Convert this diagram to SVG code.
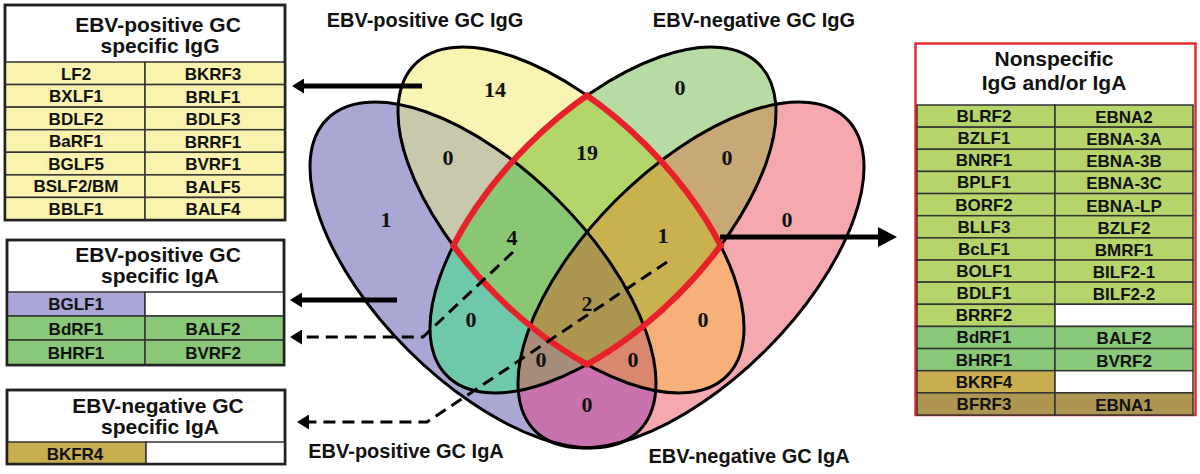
<svg xmlns="http://www.w3.org/2000/svg" width="1200" height="474" viewBox="0 0 1200 474">
<style>
.num{font-family:"Liberation Serif","Times New Roman",serif;font-weight:bold;font-size:22px;text-anchor:middle;fill:#111}
.lbl{font-family:"Liberation Sans",Arial,sans-serif;font-weight:bold;font-size:20px;text-anchor:middle;fill:#111}
.ttl{font-family:"Liberation Sans",Arial,sans-serif;font-weight:bold;font-size:21px;text-anchor:middle;fill:#111}
.ttl2{font-family:"Liberation Sans",Arial,sans-serif;font-weight:bold;font-size:21px;text-anchor:middle;fill:#111}
.cell{font-family:"Liberation Sans",Arial,sans-serif;font-weight:bold;font-size:17px;text-anchor:middle;fill:#111}
.c{stroke:#333;stroke-width:1.5}
.box{fill:#fff;stroke:#222;stroke-width:2.5}
.outline{fill:none;stroke:#000;stroke-width:3}
.red{fill:none;stroke:#e8202a;stroke-width:6}
.arrow{fill:none;stroke:#000;stroke-width:5}
.dash{fill:none;stroke:#000;stroke-width:3;stroke-dasharray:12 7}
.yel{fill:#f9f3ad}.pur{fill:#aaa7d6}.grn{fill:#88c878}.gold{fill:#c9ae4f}.lime{fill:#b5d56b}.olive{fill:#ae9650}.wht{fill:#fff}
</style>
<defs>
<clipPath id="cP"><ellipse cx="483" cy="275" rx="220.5" ry="106" transform="rotate(45 483 275)"/></clipPath>
<clipPath id="cY"><ellipse cx="571" cy="220" rx="220.5" ry="106" transform="rotate(45 571 220)"/></clipPath>
<clipPath id="cG"><ellipse cx="603" cy="220" rx="220.5" ry="106" transform="rotate(-45 603 220)"/></clipPath>
<clipPath id="cK"><ellipse cx="691" cy="275" rx="220.5" ry="106" transform="rotate(-45 691 275)"/></clipPath>
<clipPath id="cYb"><ellipse cx="571" cy="220" rx="223.5" ry="109" transform="rotate(45 571 220)"/></clipPath>
<clipPath id="cGb"><ellipse cx="603" cy="220" rx="223.5" ry="109" transform="rotate(-45 603 220)"/></clipPath>
<ellipse id="eP" cx="483" cy="275" rx="220.5" ry="106" transform="rotate(45 483 275)"/>
<ellipse id="eY" cx="571" cy="220" rx="220.5" ry="106" transform="rotate(45 571 220)"/>
<ellipse id="eG" cx="603" cy="220" rx="220.5" ry="106" transform="rotate(-45 603 220)"/>
<ellipse id="eK" cx="691" cy="275" rx="220.5" ry="106" transform="rotate(-45 691 275)"/>
<marker id="ahS" markerUnits="userSpaceOnUse" markerWidth="12" markerHeight="15" viewBox="0 -7.5 12 15" refX="2" refY="0" orient="auto"><path d="M0,-7.5 L12,0 L0,7.5 Z" fill="#000"/></marker>
<marker id="ahB" markerUnits="userSpaceOnUse" markerWidth="19" markerHeight="20" viewBox="0 -10 19 20" refX="3" refY="0" orient="auto"><path d="M0,-10 L19,0 L0,10 Z" fill="#000"/></marker>
</defs>
<rect width="1200" height="474" fill="#fff"/>

<g id="venn">
<g id="set-pos-igg-fill"><use href="#eY" fill="#f8f4b2"/></g>
<g id="set-neg-igg-fill"><use href="#eG" fill="#b6dba3"/></g>
<g id="set-pos-iga-fill"><use href="#eP" fill="#aaa7d5"/></g>
<g id="set-neg-iga-fill"><use href="#eK" fill="#f5a8ad"/></g>
<g clip-path="url(#cP)"><use href="#eY" fill="#c8c8ad"/></g>
<g clip-path="url(#cY)"><use href="#eG" fill="#b3d66a"/></g>
<g clip-path="url(#cG)"><use href="#eK" fill="#c9a877"/></g>
<g clip-path="url(#cP)"><use href="#eG" fill="#6fc8a9"/></g>
<g clip-path="url(#cY)"><use href="#eK" fill="#f8b07a"/></g>
<g clip-path="url(#cP)"><use href="#eK" fill="#c873ae"/></g>
<g clip-path="url(#cY)"><g clip-path="url(#cP)"><use href="#eG" fill="#89c775"/></g></g>
<g clip-path="url(#cY)"><g clip-path="url(#cK)"><use href="#eG" fill="#c9b14f"/></g></g>
<g clip-path="url(#cP)"><g clip-path="url(#cG)"><use href="#eK" fill="#a88d7a"/></g></g>
<g clip-path="url(#cP)"><g clip-path="url(#cY)"><use href="#eK" fill="#d9876f"/></g></g>
<g clip-path="url(#cP)"><g clip-path="url(#cK)"><g clip-path="url(#cG)"><use href="#eY" fill="#ad9650"/></g></g></g>
<g id="outlines">
<use href="#eP" class="outline"/>
<use href="#eY" class="outline"/>
<use href="#eG" class="outline"/>
<use href="#eK" class="outline"/>
</g>
<g id="highlight">
<g clip-path="url(#cGb)"><use href="#eY" class="red"/></g>
<g clip-path="url(#cYb)"><use href="#eG" class="red"/></g>
</g>
<g id="counts">
<text class="num" x="495" y="97">14</text>
<text class="num" x="680" y="95">0</text>
<text class="num" x="448" y="165">0</text>
<text class="num" x="587" y="160">19</text>
<text class="num" x="727" y="165">0</text>
<text class="num" x="386" y="227">1</text>
<text class="num" x="787" y="227">0</text>
<text class="num" x="512" y="245">4</text>
<text class="num" x="663" y="243">1</text>
<text class="num" x="587" y="311">2</text>
<text class="num" x="471" y="327">0</text>
<text class="num" x="703" y="327">0</text>
<text class="num" x="541" y="367">0</text>
<text class="num" x="633" y="367">0</text>
<text class="num" x="587" y="412">0</text>
</g>
<g id="set-labels">
<text class="lbl" x="425" y="27">EBV-positive GC IgG</text>
<text class="lbl" x="754" y="27">EBV-negative GC IgG</text>
<text class="lbl" x="406" y="458">EBV-positive GC IgA</text>
<text class="lbl" x="749" y="463">EBV-negative GC IgA</text>
</g>
</g>

<g id="table-pos-igg">
<rect class="box" x="5" y="5" width="280" height="215"/>
<text class="ttl" x="158" y="32">EBV-positive GC</text>
<text class="ttl" x="160" y="53">specific IgG</text>
<rect class="c yel" x="5" y="62" width="140" height="22.57"/><rect class="c yel" x="145" y="62" width="140" height="22.57"/>
<rect class="c yel" x="5" y="84.57" width="140" height="22.57"/><rect class="c yel" x="145" y="84.57" width="140" height="22.57"/>
<rect class="c yel" x="5" y="107.14" width="140" height="22.57"/><rect class="c yel" x="145" y="107.14" width="140" height="22.57"/>
<rect class="c yel" x="5" y="129.71" width="140" height="22.57"/><rect class="c yel" x="145" y="129.71" width="140" height="22.57"/>
<rect class="c yel" x="5" y="152.29" width="140" height="22.57"/><rect class="c yel" x="145" y="152.29" width="140" height="22.57"/>
<rect class="c yel" x="5" y="174.86" width="140" height="22.57"/><rect class="c yel" x="145" y="174.86" width="140" height="22.57"/>
<rect class="c yel" x="5" y="197.43" width="140" height="22.57"/><rect class="c yel" x="145" y="197.43" width="140" height="22.57"/>
<rect x="5" y="5" width="280" height="215" fill="none" stroke="#222" stroke-width="2.5"/>
<text class="cell" x="76" y="79.5">LF2</text><text class="cell" x="213" y="80">BKRF3</text>
<text class="cell" x="76" y="102">BXLF1</text><text class="cell" x="213" y="102.5">BRLF1</text>
<text class="cell" x="76" y="124.5">BDLF2</text><text class="cell" x="213" y="125">BDLF3</text>
<text class="cell" x="76" y="147">BaRF1</text><text class="cell" x="213" y="147.5">BRRF1</text>
<text class="cell" x="76" y="169.5">BGLF5</text><text class="cell" x="213" y="170">BVRF1</text>
<text class="cell" x="76" y="192">BSLF2/BM</text><text class="cell" x="213" y="192.5">BALF5</text>
<text class="cell" x="76" y="214.5">BBLF1</text><text class="cell" x="213" y="215">BALF4</text>
</g>

<g id="table-pos-iga">
<rect class="box" x="7" y="240" width="277" height="125"/>
<text class="ttl" x="158" y="262">EBV-positive GC</text>
<text class="ttl" x="160" y="283">specific IgA</text>
<rect class="c pur" x="7" y="292" width="138" height="24"/><rect class="c wht" x="145" y="292" width="139" height="24"/>
<rect class="c grn" x="7" y="316" width="138" height="24"/><rect class="c grn" x="145" y="316" width="139" height="24"/>
<rect class="c grn" x="7" y="340" width="138" height="25"/><rect class="c grn" x="145" y="340" width="139" height="25"/>
<rect x="7" y="240" width="277" height="125" fill="none" stroke="#222" stroke-width="2.5"/>
<text class="cell" x="76" y="310">BGLF1</text>
<text class="cell" x="76" y="334.5">BdRF1</text><text class="cell" x="213" y="334.5">BALF2</text>
<text class="cell" x="76" y="358.5">BHRF1</text><text class="cell" x="213" y="358.5">BVRF2</text>
</g>

<g id="table-neg-iga">
<rect class="box" x="7" y="390" width="278" height="74"/>
<text class="ttl" x="158" y="413">EBV-negative GC</text>
<text class="ttl" x="160" y="434">specific IgA</text>
<rect class="c gold" x="7" y="442" width="139" height="22"/><rect class="c wht" x="146" y="442" width="139" height="22"/>
<rect x="7" y="390" width="278" height="74" fill="none" stroke="#222" stroke-width="2.5"/>
<text class="cell" x="75" y="459.5">BKFR4</text>
</g>

<g id="table-nonspecific">
<rect x="915.5" y="43.5" width="280" height="371.5" fill="#fff" stroke="#e52d2d" stroke-width="2.5"/>
<text class="ttl2" x="1054" y="66">Nonspecific</text>
<text class="ttl2" x="1054" y="90">IgG and/or IgA</text>
<rect class="c lime" x="917" y="105" width="138" height="22.14"/><rect class="c lime" x="1055" y="105" width="138" height="22.14"/>
<rect class="c lime" x="917" y="127.14" width="138" height="22.14"/><rect class="c lime" x="1055" y="127.14" width="138" height="22.14"/>
<rect class="c lime" x="917" y="149.29" width="138" height="22.14"/><rect class="c lime" x="1055" y="149.29" width="138" height="22.14"/>
<rect class="c lime" x="917" y="171.43" width="138" height="22.14"/><rect class="c lime" x="1055" y="171.43" width="138" height="22.14"/>
<rect class="c lime" x="917" y="193.57" width="138" height="22.14"/><rect class="c lime" x="1055" y="193.57" width="138" height="22.14"/>
<rect class="c lime" x="917" y="215.71" width="138" height="22.14"/><rect class="c lime" x="1055" y="215.71" width="138" height="22.14"/>
<rect class="c lime" x="917" y="237.86" width="138" height="22.14"/><rect class="c lime" x="1055" y="237.86" width="138" height="22.14"/>
<rect class="c lime" x="917" y="260" width="138" height="22.14"/><rect class="c lime" x="1055" y="260" width="138" height="22.14"/>
<rect class="c lime" x="917" y="282.14" width="138" height="22.14"/><rect class="c lime" x="1055" y="282.14" width="138" height="22.14"/>
<rect class="c lime" x="917" y="304.29" width="138" height="22.14"/><rect class="c wht" x="1055" y="304.29" width="138" height="22.14"/>
<rect class="c grn" x="917" y="326.43" width="138" height="22.14"/><rect class="c grn" x="1055" y="326.43" width="138" height="22.14"/>
<rect class="c grn" x="917" y="348.57" width="138" height="22.14"/><rect class="c grn" x="1055" y="348.57" width="138" height="22.14"/>
<rect class="c gold" x="917" y="370.71" width="138" height="22.14"/><rect class="c wht" x="1055" y="370.71" width="138" height="22.14"/>
<rect class="c olive" x="917" y="392.86" width="138" height="22.14"/><rect class="c olive" x="1055" y="392.86" width="138" height="22.14"/>
<text class="cell" x="984" y="122">BLRF2</text><text class="cell" x="1124" y="123">EBNA2</text>
<text class="cell" x="984" y="144">BZLF1</text><text class="cell" x="1124" y="145">EBNA-3A</text>
<text class="cell" x="984" y="166.3">BNRF1</text><text class="cell" x="1124" y="167.3">EBNA-3B</text>
<text class="cell" x="984" y="188.4">BPLF1</text><text class="cell" x="1124" y="189.4">EBNA-3C</text>
<text class="cell" x="984" y="210.6">BORF2</text><text class="cell" x="1124" y="211.6">EBNA-LP</text>
<text class="cell" x="984" y="232.7">BLLF3</text><text class="cell" x="1124" y="233.7">BZLF2</text>
<text class="cell" x="984" y="254.9">BcLF1</text><text class="cell" x="1124" y="255.9">BMRF1</text>
<text class="cell" x="984" y="277">BOLF1</text><text class="cell" x="1124" y="278">BILF2-1</text>
<text class="cell" x="984" y="299.1">BDLF1</text><text class="cell" x="1124" y="300.1">BILF2-2</text>
<text class="cell" x="984" y="321.3">BRRF2</text>
<text class="cell" x="984" y="343.4">BdRF1</text><text class="cell" x="1124" y="344.4">BALF2</text>
<text class="cell" x="984" y="365.6">BHRF1</text><text class="cell" x="1124" y="366.6">BVRF2</text>
<text class="cell" x="984" y="387.7">BKRF4</text>
<text class="cell" x="984" y="409.9">BFRF3</text><text class="cell" x="1124" y="410.9">EBNA1</text>
</g>

<g id="connectors">
<path class="arrow" d="M422,86 H302" marker-end="url(#ahS)"/>
<path class="arrow" d="M397,300 H300" marker-end="url(#ahS)"/>
<path class="dash" d="M513,252 L423,337 H300" marker-end="url(#ahS)"/>
<path class="dash" d="M667,262 L427,422 H307" marker-end="url(#ahS)"/>
<path class="arrow" d="M720,237 H881" marker-end="url(#ahB)"/>
</g>
</svg>
